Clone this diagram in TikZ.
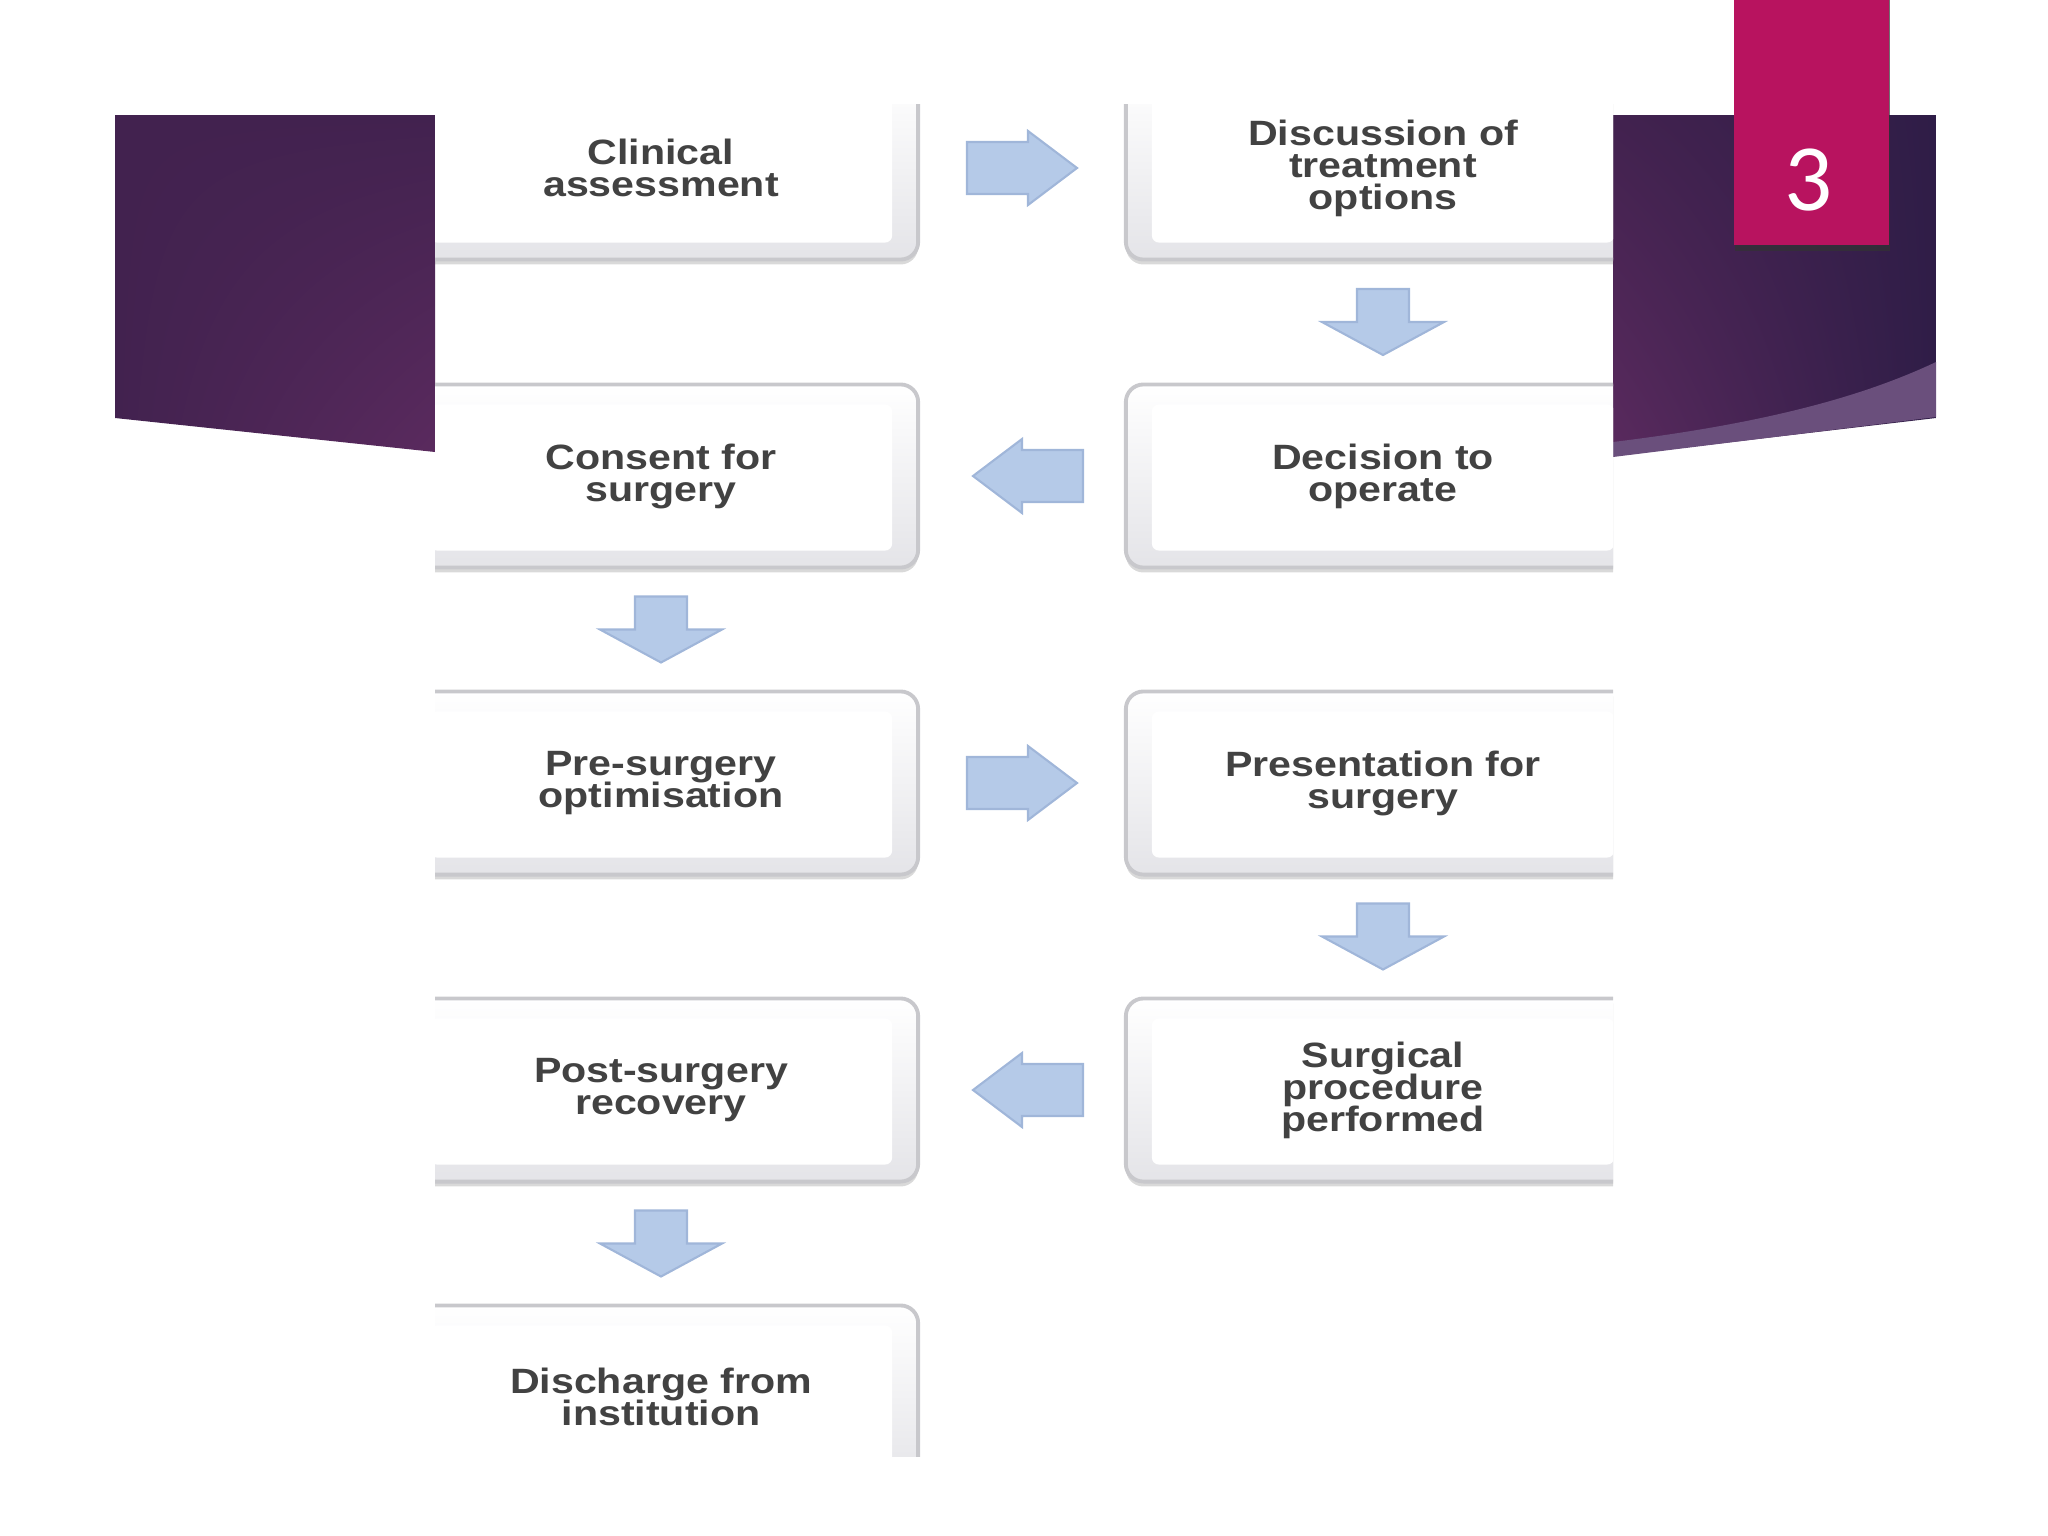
\documentclass[tikz,border=0pt]{standalone}
\usepackage{fontspec}
\usepackage{xcolor}
\usepackage{tikz}
\usetikzlibrary{calc,shadows,shadings}

\newfontfamily\boxfont[FakeStretch=1.17]{Liberation Sans}
\newfontfamily\numfont{Carlito}
\newcommand\steptextfont{\boxfont\bfseries\fontsize{10pt}{9.1pt}\selectfont\lineskiplimit=-10pt\relax}

\definecolor{purpdark}{HTML}{2F1D47}
\definecolor{purpmid}{HTML}{42224F}
\definecolor{purplight}{HTML}{5A2A5E}
\definecolor{purpwedge}{HTML}{6A4F7C}
\definecolor{slidenum}{HTML}{B8135F}
\definecolor{arrowfill}{HTML}{B5CAE8}
\definecolor{arrowedge}{HTML}{A0B6D9}
\definecolor{boxtext}{HTML}{424242}
\definecolor{boxline}{HTML}{C8C8CC}
\definecolor{boxbevel}{HTML}{E4E4E8}

\begin{document}
\begin{tikzpicture}[x=0.01cm, y=-0.01cm,
  stepbox/.style={rectangle, rounded corners=5pt, minimum width=5.14cm, minimum height=1.83cm,
    draw=boxline, line width=1.1pt, top color=white, bottom color=boxbevel, inner sep=0pt,
    drop shadow={shadow xshift=0pt, shadow yshift=-1.4pt, opacity=0.3},
    path picture={\fill[white, rounded corners=2pt]
      ($(path picture bounding box.north west)+(26,20)$) rectangle
      ($(path picture bounding box.south east)+(-26,-17)$);},
    font=\steptextfont, text=boxtext, align=center},
  blockarrow/.style={fill=arrowfill, draw=arrowedge, line width=0.6pt, line join=miter},
  rightarrow/.pic={\filldraw[blockarrow] (-55,-26) -- (6,-26) -- (6,-37) -- (55,0)
    -- (6,37) -- (6,26) -- (-55,26) -- cycle;},
  downarrow/.pic={\filldraw[blockarrow] (-26,-33) -- (-26,0) -- (-61,0) -- (0,33)
    -- (61,0) -- (26,0) -- (26,-33) -- cycle;}]

\useasboundingbox (0,0) rectangle (2048,1536);

% BANDS
  \shade[upper left=purpmid, upper right=purpmid, lower left=purpmid, lower right=purplight]
    (115,115) -- (435,115) -- (435,452) -- (115,418) -- cycle;
  \shade[upper left=purpmid, upper right=purpdark, lower left=purplight, lower right=purpdark]
    (1613,115) -- (1936,115) -- (1936,418) -- (1613,456) -- cycle;
  \fill[purpwedge] (1613,442) .. controls (1760,424) and (1860,398) .. (1936,362)
    -- (1936,417) -- (1613,457) -- cycle;

% SLIDE NUMBER
  \fill[black!80, opacity=0.7] (1735,0) rectangle (1890,251);
  \fill[slidenum] (1734,0) rectangle (1889,245);
  \node[font=\numfont\fontsize{27pt}{27pt}\selectfont, text=white] (num) at (1809,180) {3};

\begin{scope}
  \clip (435,104) rectangle (1613,1456);

% Left column
  \node[stepbox] (ca) at (661, 168) {Clinical\\assessment};
  \node[stepbox] (cs) at (661, 476) {Consent for\\surgery};
  \node[stepbox] (po) at (661, 783) {Pre-surgery\\optimisation};
  \node[stepbox] (pr) at (661,1090) {Post-surgery\\recovery};
  \node[stepbox] (di) at (661,1397) {Discharge from\\institution};

% Right column
  \node[stepbox] (dt) at (1383, 168) {Discussion of\\treatment\\options};
  \node[stepbox] (dc) at (1383, 476) {Decision to\\operate};
  \node[stepbox] (ps) at (1383, 783) {Presentation for\\surgery};
  \node[stepbox] (sp) at (1383,1090) {Surgical\\procedure\\performed};

% arrows
  \pic at ($(ca.east)!.5!(dt.west)$) {rightarrow};
  \pic at ($(po.east)!.5!(ps.west)$) {rightarrow};
  \pic[xscale=-1] at ($(dc.west)!.5!(cs.east)+(6,0)$) {rightarrow};
  \pic[xscale=-1] at ($(sp.west)!.5!(pr.east)+(6,0)$) {rightarrow};
  \foreach \a/\b in {dt/dc, cs/po, ps/sp, pr/di}
      \pic at ($(\a.south)!.5!(\b.north)$) {downarrow};
\end{scope}

\end{tikzpicture}
\end{document}
